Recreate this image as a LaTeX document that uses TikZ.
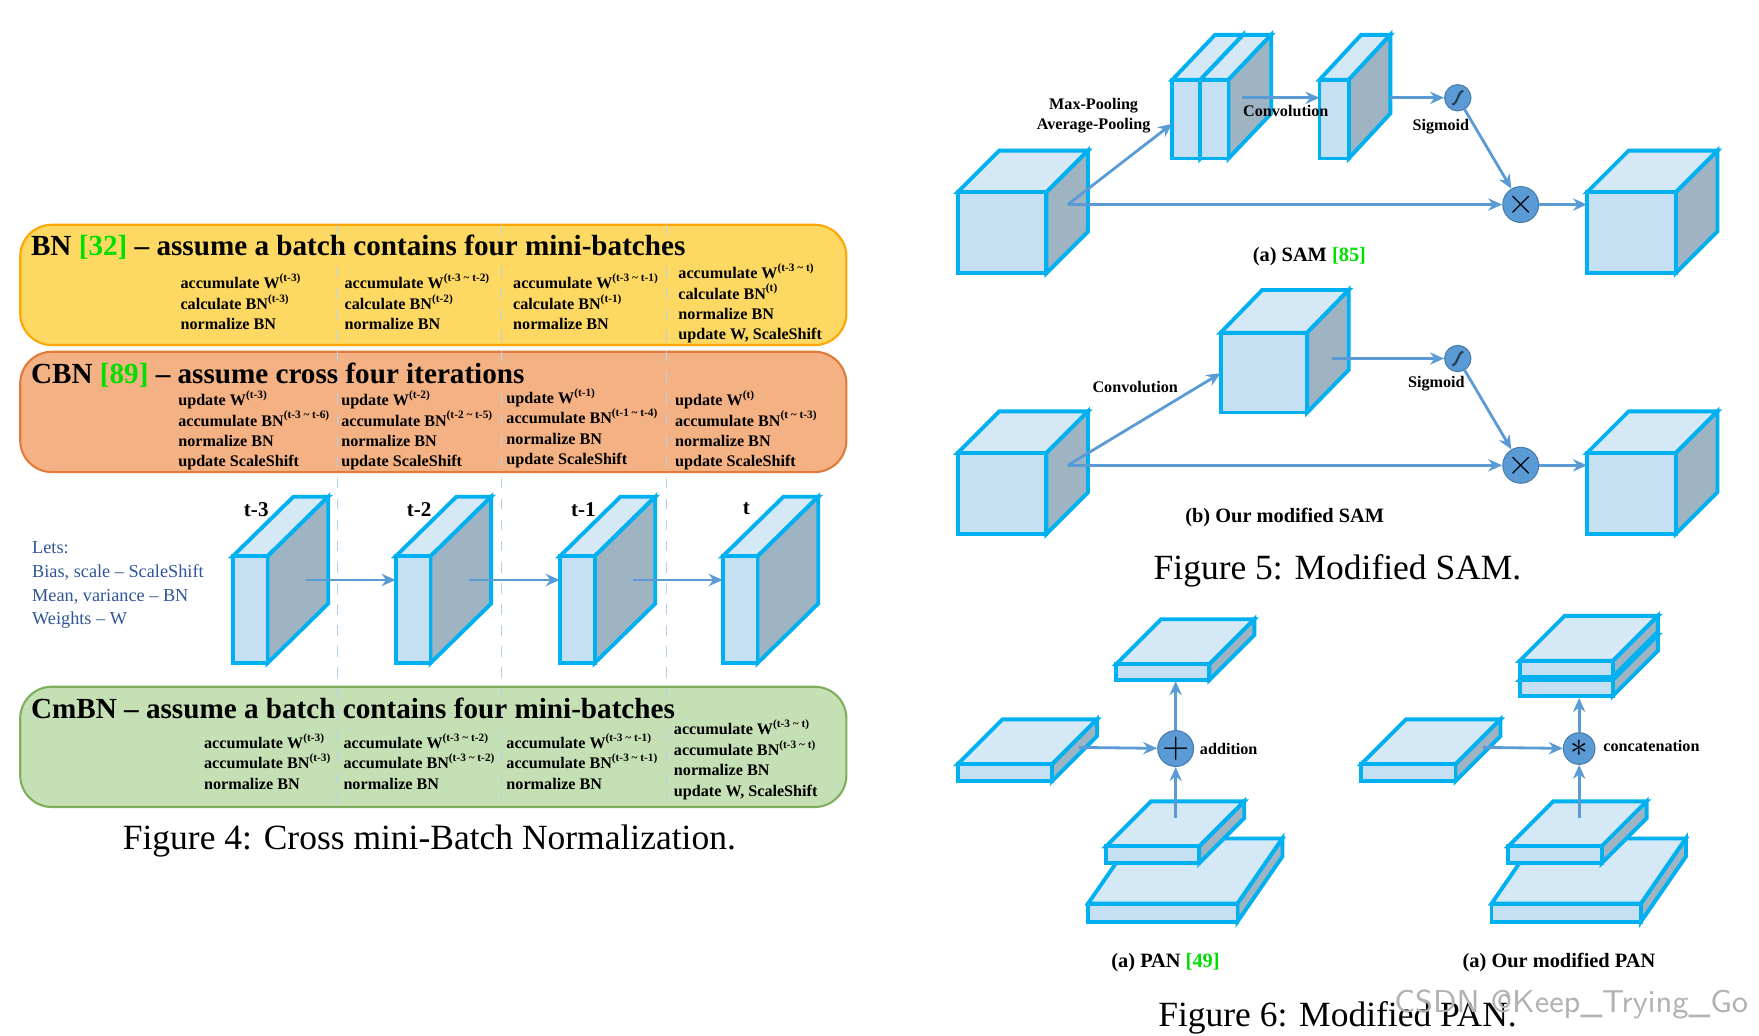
\documentclass[tikz,border=0pt]{standalone}
\usepackage{fontspec}
\setmainfont{Liberation Serif}
\usetikzlibrary{arrows.meta}
\definecolor{edge}{HTML}{00B0F0}
\definecolor{front}{HTML}{C5E0F2}
\definecolor{topf}{HTML}{D4E8F6}
\definecolor{side}{HTML}{9FB4C2}
\definecolor{arr}{HTML}{5B9BD5}
\definecolor{lets}{HTML}{2F5597}
\definecolor{refg}{HTML}{00E000}
\newcommand{\blk}[6]{% x, y(front top), w, h, dx, dy
  \filldraw[blk,fill=topf] (#1,#2)--++(#5,-#6)--++(#3,0)--(#1+#3,#2)--cycle;
  \filldraw[blk,fill=side] (#1+#3,#2)--++(#5,-#6)--++(0,#4)--(#1+#3,#2+#4)--cycle;
  \filldraw[blk,fill=front] (#1,#2) rectangle (#1+#3,#2+#4);}
\newcommand{\sm}{\fontsize{4.6}{5.8}\selectfont\bfseries}
\begin{document}
\begin{tikzpicture}[x=0.01124cm,y=-0.01124cm,
  blk/.style={draw=edge,line width=1.1pt,line join=miter},
  band/.style={rounded corners=9pt,line width=0.6pt},
  col/.style={anchor=north west,align=left,inner sep=0pt,font=\sm},
  ttl/.style={anchor=west,inner sep=0pt,font=\fontsize{8.3}{9}\selectfont\bfseries},
  lbl/.style={inner sep=0pt,font=\fontsize{4.6}{5.6}\selectfont\bfseries},
  sub/.style={inner sep=0pt,font=\fontsize{5.8}{7}\selectfont\bfseries},
  capt/.style={inner sep=0pt,font=\fontsize{10.1}{11}\selectfont},
  con/.style={draw=arr,line width=0.8pt,-{Stealth[length=4pt,width=3.5pt]}},
  op/.style={circle,fill=arr,draw=arr!80!black,line width=0.3pt,minimum size=7.5pt,inner sep=0pt}]
\useasboundingbox (0,0) rectangle (1565,921);
% ---------------- Figure 4 ----------------
\filldraw[band,fill=yellow!55!orange!60!white,draw=orange!70!yellow] (18,200) rectangle (753,307);
\filldraw[band,fill={rgb,255:red,244;green,177;blue,131},draw={rgb,255:red,224;green,123;blue,57}] (18,313) rectangle (753,420);
\filldraw[band,fill={rgb,255:red,197;green,224;blue,180},draw={rgb,255:red,127;green,174;blue,95}] (18,611) rectangle (753,718);
\foreach \x in {300,446,593}
  \draw[dashed,draw=arr!45,line width=0.3pt] (\x,200)--(\x,718);
\node[ttl] (bnt) at (27,220) {BN \textcolor{refg}{[32]} -- assume a batch contains four mini-batches};
\node[col] (bn1) at (160,243) {accumulate W\textsuperscript{(t-3)}\\calculate BN\textsuperscript{(t-3)}\\normalize BN};
\node[col] (bn2) at (306,243) {accumulate W\textsuperscript{(t-3 \textasciitilde{} t-2)}\\calculate BN\textsuperscript{(t-2)}\\normalize BN};
\node[col] (bn3) at (456,243) {accumulate W\textsuperscript{(t-3 \textasciitilde{} t-1)}\\calculate BN\textsuperscript{(t-1)}\\normalize BN};
\node[col] (bn4) at (603,234) {accumulate W\textsuperscript{(t-3 \textasciitilde{} t)}\\calculate BN\textsuperscript{(t)}\\normalize BN\\update W, ScaleShift};
\node[ttl] (cbnt) at (27,334) {CBN \textcolor{refg}{[89]} -- assume cross four iterations};
\node[col] (cb1) at (158,347) {update W\textsuperscript{(t-3)}\\accumulate BN\textsuperscript{(t-3 \textasciitilde{} t-6)}\\normalize BN\\update ScaleShift};
\node[col] (cb2) at (303,347) {update W\textsuperscript{(t-2)}\\accumulate BN\textsuperscript{(t-2 \textasciitilde{} t-5)}\\normalize BN\\update ScaleShift};
\node[col] (cb3) at (450,345) {update W\textsuperscript{(t-1)}\\accumulate BN\textsuperscript{(t-1 \textasciitilde{} t-4)}\\normalize BN\\update ScaleShift};
\node[col] (cb4) at (600,347) {update W\textsuperscript{(t)}\\accumulate BN\textsuperscript{(t \textasciitilde{} t-3)}\\normalize BN\\update ScaleShift};
\node[ttl] (cmt) at (27,630) {CmBN -- assume a batch contains four mini-batches};
\node[col] (cm1) at (181,652) {accumulate W\textsuperscript{(t-3)}\\accumulate BN\textsuperscript{(t-3)}\\normalize BN};
\node[col] (cm2) at (305,652) {accumulate W\textsuperscript{(t-3 \textasciitilde{} t-2)}\\accumulate BN\textsuperscript{(t-3 \textasciitilde{} t-2)}\\normalize BN};
\node[col] (cm3) at (450,652) {accumulate W\textsuperscript{(t-3 \textasciitilde{} t-1)}\\accumulate BN\textsuperscript{(t-3 \textasciitilde{} t-1)}\\normalize BN};
\node[col] (cm4) at (599,640) {accumulate W\textsuperscript{(t-3 \textasciitilde{} t)}\\accumulate BN\textsuperscript{(t-3 \textasciitilde{} t)}\\normalize BN\\update W, ScaleShift};
\node[anchor=north west,align=left,inner sep=0pt,text=lets,font=\fontsize{5.2}{6.8}\selectfont] (lets) at (28,481)
  {Lets:\\Bias, scale -- ScaleShift\\Mean, variance -- BN\\Weights -- W};
\foreach \x/\t [count=\i] in {207/t-3,352/t-2,498/t-1,643/t} {
  \blk{\x}{495}{31}{95}{54}{53}
  \node[lbl,font=\fontsize{6}{7}\selectfont\bfseries] (t\i) at (\x+21,453) {\t};
  \coordinate (in\i) at (\x,516);
  \coordinate (out\i) at (\x+65,516);
}
\draw[con] (out1)--(in2);
\draw[con] (out2)--(in3);
\draw[con] (out3)--(in4);
\node[capt] (f4) at (382,748) {Figure 4: Cross mini-Batch Normalization.};
% ---------------- Figure 5 (a) ----------------
\blk{852}{171}{79}{72}{37}{37}
\blk{1412}{171}{79}{72}{37}{37}
\blk{1043}{71}{25}{70}{38}{40}
\blk{1068}{71}{25}{70}{38}{40}
\blk{1174}{71}{26}{70}{37}{40}
\node[op] (sg1) at (1297,87) {};
\draw[line width=0.6pt,draw=arr!40!black] (1292,93) .. controls (1297,93) and (1297,81) .. (1302,81);
\node[op] (mu1) at (1353,182) {$\times$};
\coordinate (a0) at (950,182);
\coordinate (a1) at (1043,110);
\coordinate (c0) at (1105,87);
\coordinate (c1) at (1174,87);
\coordinate (c2) at (1237,87);
\coordinate (r1) at (1412,182);
\draw[con] (a0)--(a1);
\draw[con] (a0)--(mu1);
\draw[con] (c0)--(c1);
\draw[con] (c2)--(sg1);
\draw[con] (sg1)--(mu1);
\draw[con] (mu1)--(r1);
\node[lbl,align=center] (mp) at (973,103) {Max-Pooling\\Average-Pooling};
\node[lbl] (cv1) at (1144,99) {Convolution};
\node[lbl] (sgl1) at (1282,113) {Sigmoid};
\node[sub] (sa) at (1165,228) {(a) SAM \textcolor{refg}{[85]}};
% ---------------- Figure 5 (b) ----------------
\blk{852}{403}{79}{72}{37}{37}
\blk{1412}{403}{79}{72}{37}{37}
\blk{1086}{296}{77}{71}{37}{38}
\node[op] (sg2) at (1297,319) {};
\draw[line width=0.6pt,draw=arr!40!black] (1292,325) .. controls (1297,325) and (1297,313) .. (1302,313);
\node[op] (mu2) at (1353,414) {$\times$};
\coordinate (b0) at (950,414);
\coordinate (b1) at (1086,332);
\coordinate (d0) at (1185,319);
\coordinate (r2) at (1412,414);
\draw[con] (b0)--(b1);
\draw[con] (b0)--(mu2);
\draw[con] (d0)--(sg2);
\draw[con] (sg2)--(mu2);
\draw[con] (mu2)--(r2);
\node[lbl] (cv2) at (1010,344) {Convolution};
\node[lbl] (sgl2) at (1278,341) {Sigmoid};
\node[sub] (sb) at (1143,460) {(b) Our modified SAM};
\node[capt] (f5) at (1190,508) {Figure 5: Modified SAM.};
% ---------------- Figure 6 ----------------
\blk{968}{804}{133}{16}{40}{58}
\blk{984}{753}{83}{15}{40}{40}
\blk{852}{680}{84}{15}{40}{40}
\blk{993}{591}{83}{14}{40}{40}
\node[op,minimum size=9pt] (pl) at (1046,666) {$+$};
\coordinate (p0) at (960,665);
\coordinate (p1) at (1046,728);
\coordinate (p2) at (1046,606);
\draw[con] (p0)--(pl);
\draw[con] (p1)--(pl);
\draw[con] (pl)--(p2);
\node[lbl,anchor=west] (add) at (1067,666) {addition};
\node[sub] (pa) at (1037,856) {(a) PAN \textcolor{refg}{[49]}};
\blk{1327}{804}{133}{16}{40}{58}
\blk{1342}{753}{83}{15}{40}{40}
\blk{1211}{680}{84}{15}{40}{40}
\blk{1352}{605}{83}{14}{40}{40}
\blk{1352}{588}{83}{14}{40}{40}
\node[op,minimum size=9pt] (ct) at (1405,666) {$\ast$};
\coordinate (q0) at (1319,665);
\coordinate (q1) at (1405,728);
\coordinate (q2) at (1405,621);
\draw[con] (q0)--(ct);
\draw[con] (q1)--(ct);
\draw[con] (ct)--(q2);
\node[lbl,anchor=west] (cc) at (1426,664) {concatenation};
\node[sub] (pb) at (1387,856) {(a) Our modified PAN};
\node[capt] (f6) at (1190,906) {Figure 6: Modified PAN.};
\node[inner sep=0pt,text=black!30,font=\fontsize{9}{10}\selectfont\sffamily] (wm) at (1398,894) {CSDN @Keep\_Trying\_Go};
\end{tikzpicture}
\end{document}
